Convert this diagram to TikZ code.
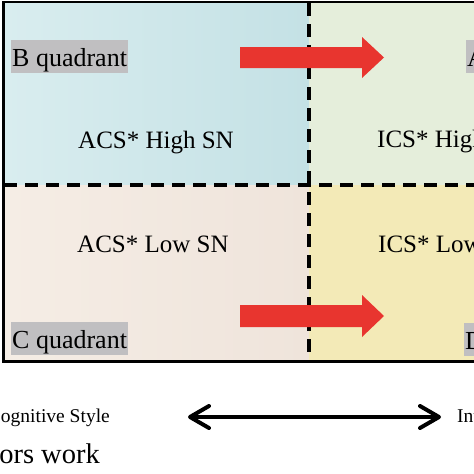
\documentclass[tikz,border=0pt]{standalone}
\usepackage{fontspec}
\setmainfont{Liberation Serif}
\usetikzlibrary{arrows.meta}
\definecolor{quadblueL}{HTML}{D9EDEF}
\definecolor{quadblueR}{HTML}{C4E1E5}
\definecolor{quadgreen}{HTML}{E5EEDB}
\definecolor{quadbeigeL}{HTML}{F5EDE5}
\definecolor{quadbeigeR}{HTML}{EFE4DB}
\definecolor{quadyellow}{HTML}{F3EAB7}
\definecolor{labelgray}{HTML}{C0BFC1}
\definecolor{shiftred}{HTML}{E8352F}

\begin{document}
\begin{tikzpicture}[
  x=1pt, y=-1pt,
  quadtext/.style={anchor=base west, inner sep=0pt, font=\fontsize{25}{30}\selectfont},
  quadlabel/.style={anchor=base west, fill=labelgray, inner xsep=1pt, inner ysep=1pt, text height=25pt, text depth=6pt, font=\fontsize{26}{30}\selectfont},
  divider/.style={black, line width=4.5pt, dash pattern=on 13pt off 8pt},
  shiftarrow/.style={fill=shiftred},
  axistext/.style={inner sep=0pt, font=\fontsize{19.5}{23}\selectfont},
  axis/.style={{Straight Barb[length=19pt,width=22pt,round]}-{Straight Barb[length=19pt,width=22pt,round]}, line width=4pt}
]
  \useasboundingbox (0,0) rectangle (474,474);
  \clip (0,0) rectangle (474,474);

  % quadrants
  \shade[left color=quadblueL, right color=quadblueR] (4,3) rectangle (309,185);
  \fill[quadgreen] (309,3) rectangle (480,185);
  \shade[left color=quadbeigeL, right color=quadbeigeR] (4,185) rectangle (309,361);
  \fill[quadyellow] (309,185) rectangle (480,361);
  \draw[line width=2.5pt] (3.5,2) rectangle (490,361.5);

  \draw[divider] (4,185) -- (480,185);
  \draw[divider] (309,3) -- (309,361);

  % red arrows
  \fill[shiftarrow] (240,47) -- (362,47) -- (362,37) -- (384,57.5) -- (362,78) -- (362,68) -- (240,68) -- cycle;
  \fill[shiftarrow] (240,305) -- (362,305) -- (362,295) -- (384,316) -- (362,337) -- (362,327) -- (240,327) -- cycle;

  \node[quadlabel] (bq) at (11,66) {B quadrant};
  \node[quadlabel] (cq) at (11,348) {C quadrant};
  \node[quadlabel] (aq) at (466,66) {A quadrant};
  \node[quadlabel] (dq) at (464,349) {D quadrant};

  \node[quadtext] (acshigh) at (78,148) {ACS* High SN};
  \node[quadtext] (icshigh) at (377,147) {ICS* High SN};
  \node[quadtext] (acslow) at (77,252) {ACS* Low SN};
  \node[quadtext] (icslow) at (378,252) {ICS* Low SN};

  % style axis
  \node[axistext, anchor=base east] (acsend) at (110,422) {Analytic Cognitive Style};
  \node[axistext, anchor=base west] (icsend) at (457,422) {Intuitive Cognitive Style};
  \coordinate (axL) at (188,417);
  \coordinate (axR) at (441,417);
  \draw[axis] (axL) -- (axR);
  \node[inner sep=0pt, anchor=base east, font=\fontsize{28.5}{32}\selectfont] (work) at (100,463) {ors work};
\end{tikzpicture}
\end{document}
